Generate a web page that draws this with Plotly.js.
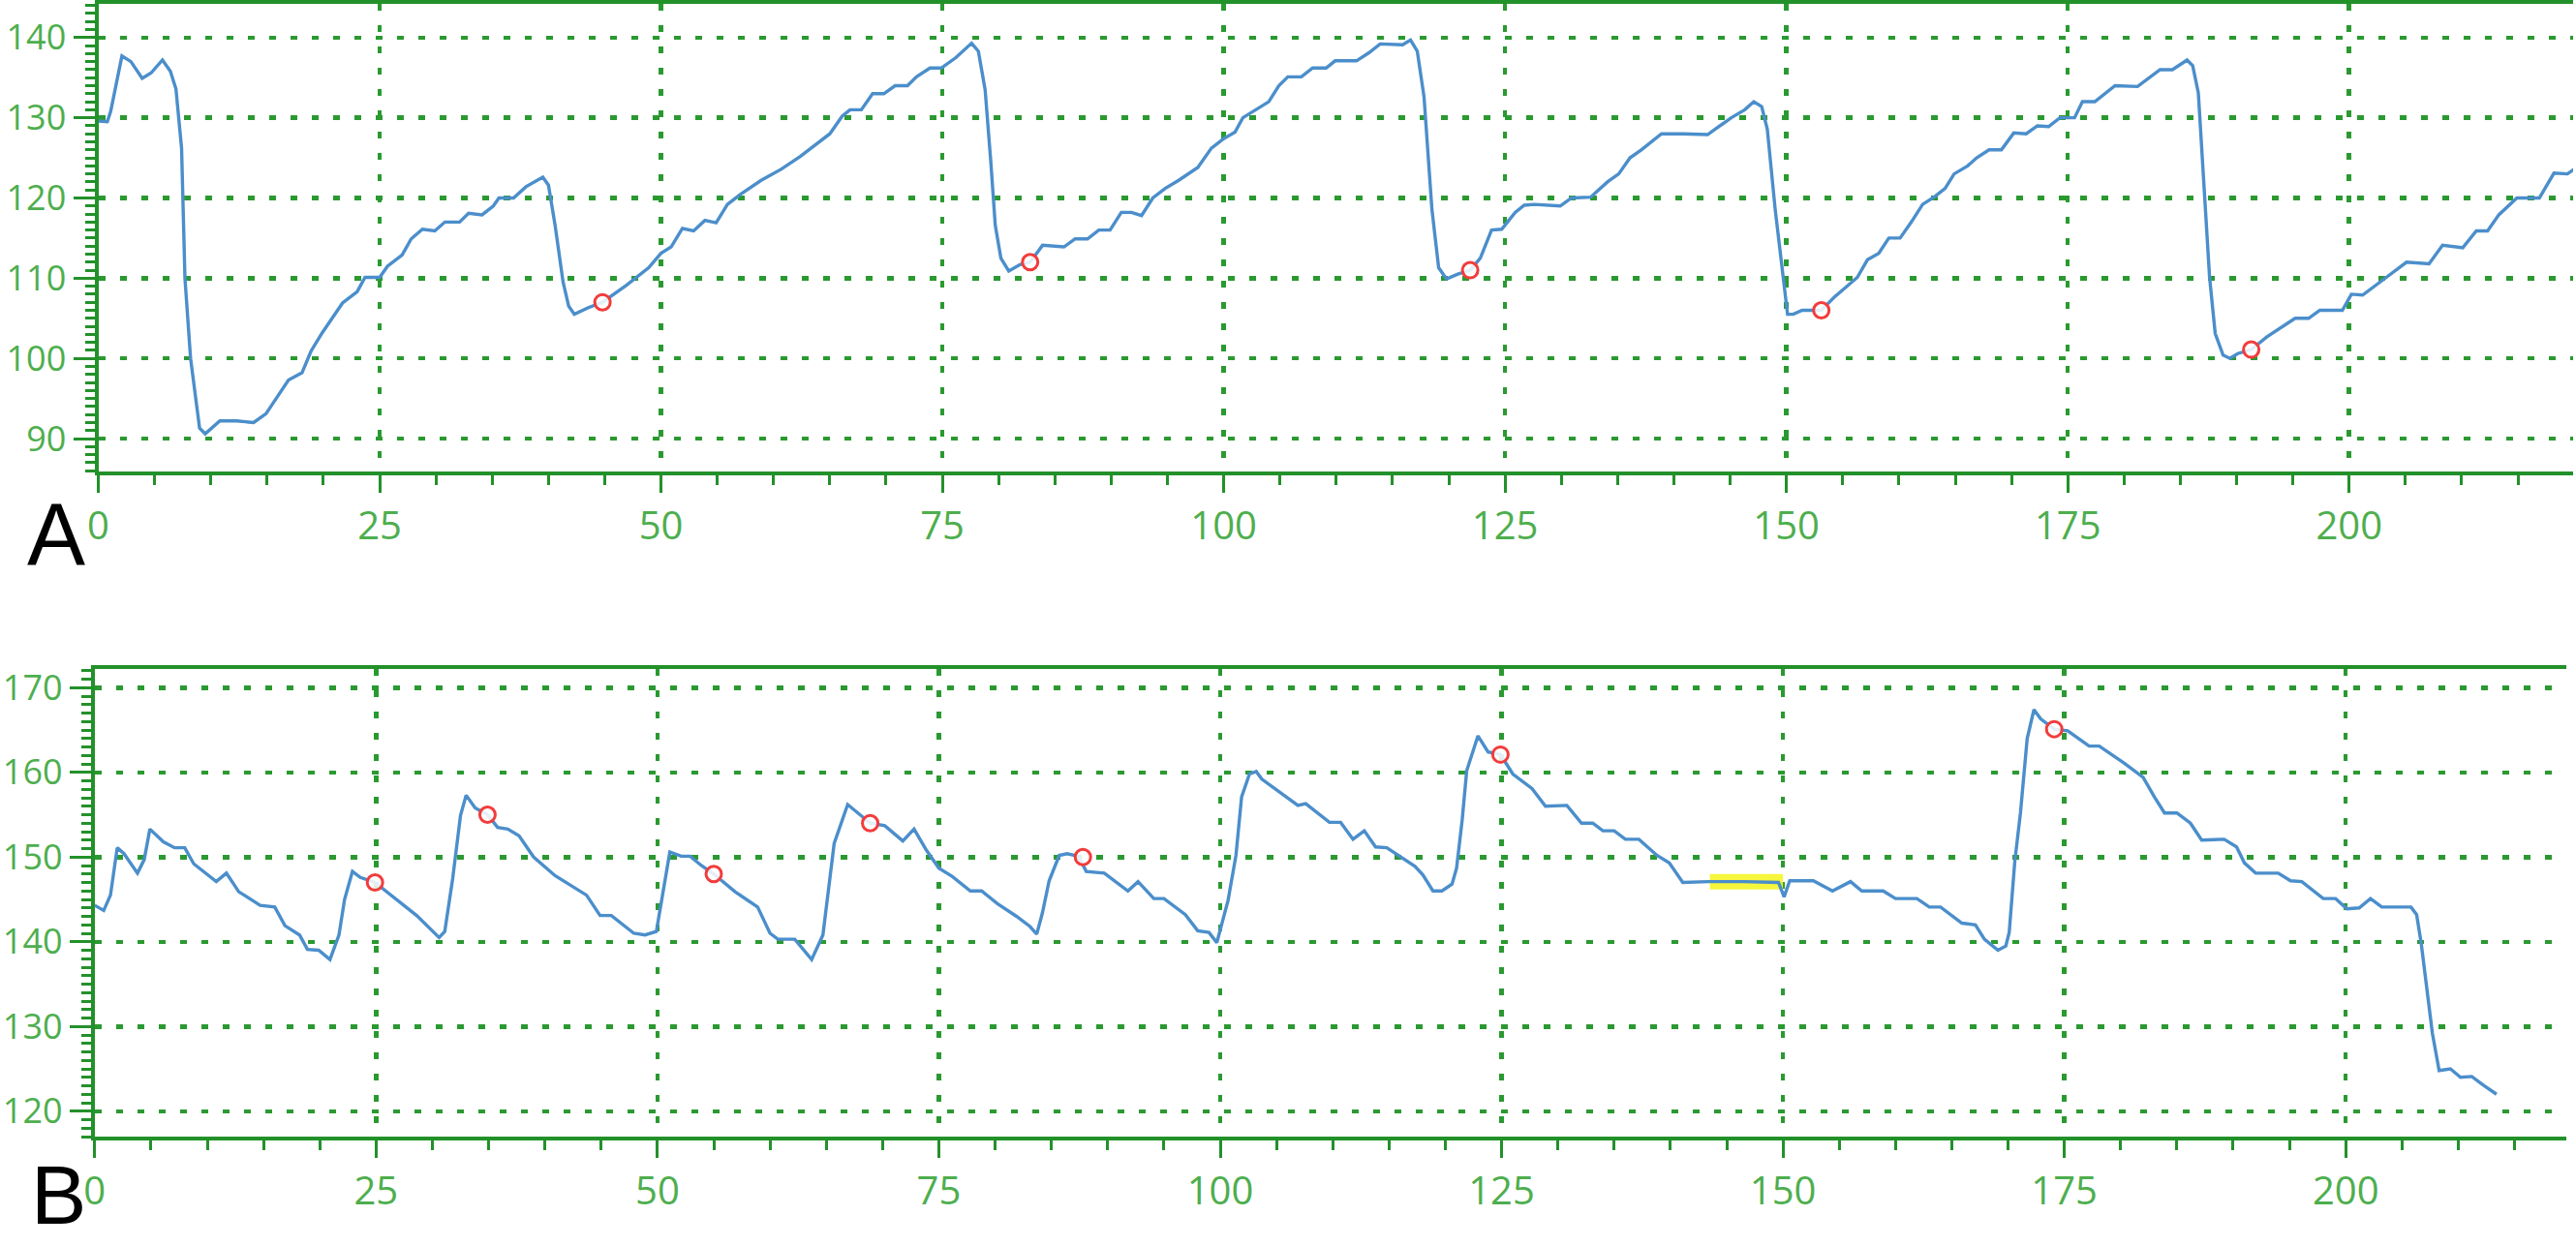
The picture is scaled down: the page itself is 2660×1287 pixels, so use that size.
<!DOCTYPE html>
<html>
<head>
<meta charset="utf-8">
<script src="https://cdn.plot.ly/plotly-3.0.1.min.js"></script>
<style>html,body{margin:0;padding:0;background:#fff;}#chart{width:2660px;height:1287px;}</style>
</head>
<body>
<div id="chart"></div>
<script>
// ---------- Panel A ----------
var aX = [0,0.8,1.1,2.1,2.9,3.9,4.7,5.7,6.4,6.9,7.4,7.7,8.2,9.0,9.5,10.8,12.3,13.8,14.9,16.9,18.1,18.9,19.9,21.7,23.0,23.7,25.0,25.7,27.0,27.8,28.8,29.9,30.8,32.1,32.9,34.1,35.1,35.6,36.9,38.0,39.5,40.0,40.6,41.3,41.8,42.3,43.5,44.8,46.9,48.9,50.0,50.9,51.9,52.9,53.9,54.9,55.9,57.2,58.9,60.7,62.4,64.1,65.0,66.1,66.8,67.8,68.8,69.8,70.8,71.9,72.7,73.9,74.9,76.2,77.6,78.2,78.8,79.3,79.7,80.2,80.9,81.9,82.8,83.9,85.8,86.8,87.9,88.9,89.9,90.9,91.8,92.7,93.7,94.8,96.0,97.7,98.9,100.0,101.0,101.7,102.9,104.0,104.9,105.7,106.9,107.9,109.1,109.9,111.8,112.9,113.9,115.9,116.6,117.2,117.8,118.2,118.5,119.1,119.8,120.8,121.9,122.8,123.8,124.7,125.9,126.7,127.6,129.9,130.9,132.6,134.1,135.1,136.1,137.1,138.9,140.8,143.0,143.7,145.1,146.3,147.1,147.8,148.3,149.0,149.6,150.1,150.6,151.4,153.1,154.3,156.3,157.2,158.2,159.1,160.1,161.1,162.1,163.2,164.1,164.9,166.1,166.9,168.0,169.1,170.2,171.3,172.3,173.3,174.3,175.6,176.3,177.4,179.2,181.2,183.2,184.3,185.6,186.1,186.6,187.1,187.6,188.1,188.8,189.4,190.1,191.3,192.7,195.2,196.4,197.4,199.4,200.2,201.2,203.3,205.1,207.1,208.3,210.1,211.3,212.3,213.3,214.9,216.9,218.2,219.4,220.1];
var aY = [129.6,129.5,130.8,137.7,137.0,134.9,135.6,137.2,135.8,133.6,126.2,110.0,100.0,91.3,90.6,92.2,92.2,92.0,93.1,97.3,98.2,100.9,103.2,106.9,108.3,110.1,110.1,111.5,112.9,114.9,116.1,115.9,117.0,117.0,118.1,117.9,119.0,120.0,120.0,121.4,122.6,121.6,116.5,109.5,106.5,105.5,106.3,107.0,109.1,111.3,113.1,113.9,116.2,115.9,117.2,116.9,119.2,120.6,122.2,123.6,125.2,127.0,128.0,130.2,131.0,131.0,133.0,133.0,134.0,134.0,135.1,136.2,136.2,137.5,139.3,138.3,133.5,124.6,116.6,112.5,110.9,111.7,112.0,114.1,113.9,114.9,114.9,116.0,116.0,118.2,118.2,117.8,120.0,121.2,122.2,123.8,126.2,127.4,128.2,130.0,131.0,132.0,134.0,135.1,135.1,136.2,136.2,137.1,137.1,138.1,139.2,139.1,139.7,138.3,132.6,124.6,118.6,111.3,109.9,110.5,111.0,112.5,116.0,116.1,118.2,119.1,119.2,119.0,120.0,120.1,122.0,123.0,125.0,126.0,128.0,128.0,127.9,128.6,130.0,131.0,132.0,131.4,128.6,118.6,111.3,105.5,105.5,106.0,106.0,107.7,110.1,112.3,113.1,115.0,115.0,117.0,119.2,120.2,121.2,123.0,124.0,125.0,126.0,126.0,128.1,128.0,129.0,128.9,130.0,130.0,132.0,132.0,134.0,133.9,136.0,136.0,137.2,136.5,133.1,121.6,110.1,103.1,100.4,100.0,100.6,101.1,102.7,105.0,105.0,106.0,106.0,108.0,107.9,110.1,112.0,111.8,114.1,113.8,115.9,115.9,117.9,120.0,120.0,123.1,123.0,123.7];
var aMarkX = [44.8, 82.8, 121.9, 153.1, 191.3];
var aMarkY = [107.0, 112.0, 111.0, 106.0, 101.1];

// ---------- Panel B ----------
var bX = [0,0.8,1.4,2.0,2.6,3.8,4.4,4.9,6.1,7.1,8.0,8.8,10.8,11.7,12.8,14.7,16.0,16.9,18.2,18.9,19.9,20.9,21.7,22.2,22.9,23.6,24.9,26.1,28.6,30.6,31.1,31.8,32.5,33.0,33.8,34.9,35.8,36.7,37.7,39.0,40.9,43.7,44.9,45.9,47.9,48.9,49.9,50.5,51.1,52.1,52.9,53.9,55.0,56.9,58.9,60.0,60.7,62.2,63.7,64.7,65.7,66.9,68.9,70.2,71.8,72.8,73.9,75.0,76.2,77.8,78.8,80.2,81.9,83.1,83.7,84.2,84.8,85.7,86.4,87.4,88.1,89.7,91.8,92.7,94.1,95.0,96.9,98.0,99.0,99.7,100.7,101.4,101.9,102.6,103.2,103.7,106.9,107.6,108.6,109.7,110.7,111.8,112.8,113.8,114.8,116.0,117.3,118.0,118.9,119.7,120.6,121.0,121.5,121.9,122.9,123.8,124.9,126.0,127.7,128.9,130.8,132.1,133.1,134.0,135.0,136.0,137.2,138.8,139.9,141.1,143.4,146.5,149.6,150.1,150.6,152.7,154.4,156.0,157.0,158.9,160.0,161.9,163.0,164.0,165.9,167.1,167.9,169.1,169.8,170.1,170.6,171.1,171.7,172.3,172.9,174.1,175.3,177.2,178.1,180.3,182.0,183.0,183.9,185.0,186.2,187.2,189.2,190.3,191.0,192.0,194.0,195.1,196.1,198.0,199.1,200.1,201.2,202.2,203.2,205.8,206.3,206.7,207.3,207.7,208.3,209.3,210.2,211.2,212.2,213.4];
var bY = [144.3,143.7,145.5,151.1,150.4,148.1,149.7,153.3,151.8,151.1,151.1,149.2,147.1,148.1,145.9,144.3,144.1,141.9,140.8,139.1,139.0,137.9,140.8,145.0,148.3,147.6,147.0,145.7,143.1,140.5,141.2,147.4,154.9,157.3,155.8,155.0,153.5,153.3,152.5,150.0,147.8,145.5,143.1,143.1,141.0,140.8,141.2,145.9,150.6,150.1,150.1,149.0,148.0,145.9,144.1,141.0,140.3,140.3,137.9,140.8,151.6,156.2,154.0,153.7,151.9,153.3,150.8,148.7,147.7,146.0,146.0,144.5,143.0,141.8,140.9,143.4,147.2,150.2,150.4,150.1,148.3,148.1,146.0,147.1,145.1,145.1,143.2,141.3,141.1,139.9,144.9,150.2,157.1,159.8,160.1,159.2,156.1,156.3,155.3,154.1,154.1,152.1,153.1,151.2,151.1,150.0,148.9,147.9,146.0,146.0,146.8,148.7,154.4,160.2,164.3,162.4,162.1,159.8,158.1,156.0,156.1,154.0,154.0,153.1,153.1,152.1,152.1,150.2,149.3,147.0,147.1,147.1,147.0,145.3,147.2,147.2,146.0,147.1,146.0,146.0,145.1,145.1,144.1,144.1,142.2,142.0,140.3,139.0,139.5,141.1,149.5,155.2,164.0,167.4,166.3,165.1,164.9,163.1,163.1,161.1,159.4,157.1,155.2,155.2,154.0,152.0,152.1,151.2,149.3,148.1,148.1,147.2,147.1,145.1,145.1,143.9,144.0,145.1,144.1,144.1,143.2,139.9,133.1,129.2,124.8,125.0,124.0,124.1,123.1,122.0];
var bMarkX = [24.9, 34.9, 55.0, 68.9, 87.8, 124.9, 174.1];
var bMarkY = [147.0, 155.0, 148.0, 154.0, 150.0, 162.1, 165.1];
var bHighlightX = [143.5, 150.0];
var bHighlightY = [147.1, 147.1];

var xTickVals = [0, 25, 50, 75, 100, 125, 150, 175, 200];
var aTickVals = [90, 100, 110, 120, 130, 140];
var bTickVals = [120, 130, 140, 150, 160, 170];

var W = 2660, H = 1287;
var AX = '#23912a', GRID = '#2a9a30', LBL = '#4eae4e';
var LINE = '#4b8ecb', MARK = '#f23c3c';

function xAxis(dom, rng, anchor) {
  return {
    domain: dom, range: rng, anchor: anchor,
    tickvals: xTickVals, ticktext: xTickVals.map(String),
    showline: true, linecolor: AX, linewidth: 4, mirror: true,
    ticks: 'outside', ticklen: 18, tickwidth: 3, tickcolor: AX,
    minor: {dtick: 5, tick0: 0, ticks: 'outside', ticklen: 10, tickwidth: 3, tickcolor: AX, showgrid: false},
    showgrid: true, gridcolor: GRID, gridwidth: 4.5, griddash: '7px,15px',
    zeroline: false,
    tickfont: {family: 'Open Sans, Noto Sans, sans-serif', size: 40, color: LBL},
    fixedrange: true
  };
}
function yAxis(dom, rng, anchor, vals) {
  return {
    domain: dom, range: rng, anchor: anchor,
    tickvals: vals, ticktext: vals.map(String),
    showline: true, linecolor: AX, linewidth: 4, mirror: false,
    ticks: 'outside', ticklen: 22, tickwidth: 3, tickcolor: AX,
    minor: {dtick: 1, ticks: 'outside', ticklen: 10, tickwidth: 3, tickcolor: AX, showgrid: false},
    showgrid: true, gridcolor: GRID, gridwidth: 4.5, griddash: '7px,15px',
    zeroline: false,
    tickfont: {family: 'Open Sans, Noto Sans, sans-serif', size: 36, color: LBL},
    fixedrange: true
  };
}

var traces = [
  {x: aX, y: aY, xaxis: 'x', yaxis: 'y', mode: 'lines', line: {color: LINE, width: 3.4}, hoverinfo: 'skip'},
  {x: aMarkX, y: aMarkY, xaxis: 'x', yaxis: 'y', mode: 'markers',
   marker: {symbol: 'circle', size: 16, color: 'rgba(255,255,255,0.85)', line: {color: MARK, width: 3}}},
  {x: bHighlightX, y: bHighlightY, xaxis: 'x2', yaxis: 'y2', mode: 'lines', line: {color: 'rgba(245,245,40,0.9)', width: 16}},
  {x: bX, y: bY, xaxis: 'x2', yaxis: 'y2', mode: 'lines', line: {color: LINE, width: 3.4}, hoverinfo: 'skip'},
  {x: bMarkX, y: bMarkY, xaxis: 'x2', yaxis: 'y2', mode: 'markers',
   marker: {symbol: 'circle', size: 16, color: 'rgba(255,255,255,0.85)', line: {color: MARK, width: 3}}}
];

var layout = {
  width: W, height: H,
  margin: {l: 0, r: 0, t: 0, b: 0},
  paper_bgcolor: '#ffffff', plot_bgcolor: '#ffffff',
  showlegend: false,
  xaxis: xAxis([101.5 / W, 2657 / W], [0, 219.9], 'y'),
  yaxis: yAxis([1 - 487 / H, 1 - 4 / H], [85.9, 144.2], 'x', aTickVals),
  xaxis2: xAxis([97.8 / W, 2650 / W], [0, 219.6], 'y2'),
  yaxis2: yAxis([1 - 1174 / H, 1 - 691 / H], [117.0, 172.2], 'x2', bTickVals),
  annotations: [
    {text: 'A', xref: 'paper', yref: 'paper', x: 58 / W, y: 1 - 552 / H, xanchor: 'center', yanchor: 'middle',
     showarrow: false, font: {family: 'Liberation Sans, Arial, sans-serif', size: 90, color: '#000'}},
    {text: 'B', xref: 'paper', yref: 'paper', x: 60 / W, y: 0.002, xanchor: 'center', yanchor: 'bottom',
     showarrow: false, font: {family: 'Liberation Sans, Arial, sans-serif', size: 86, color: '#000'}}
  ]
};

Plotly.newPlot('chart', traces, layout, {displayModeBar: false, staticPlot: true});
</script>
</body>
</html>
